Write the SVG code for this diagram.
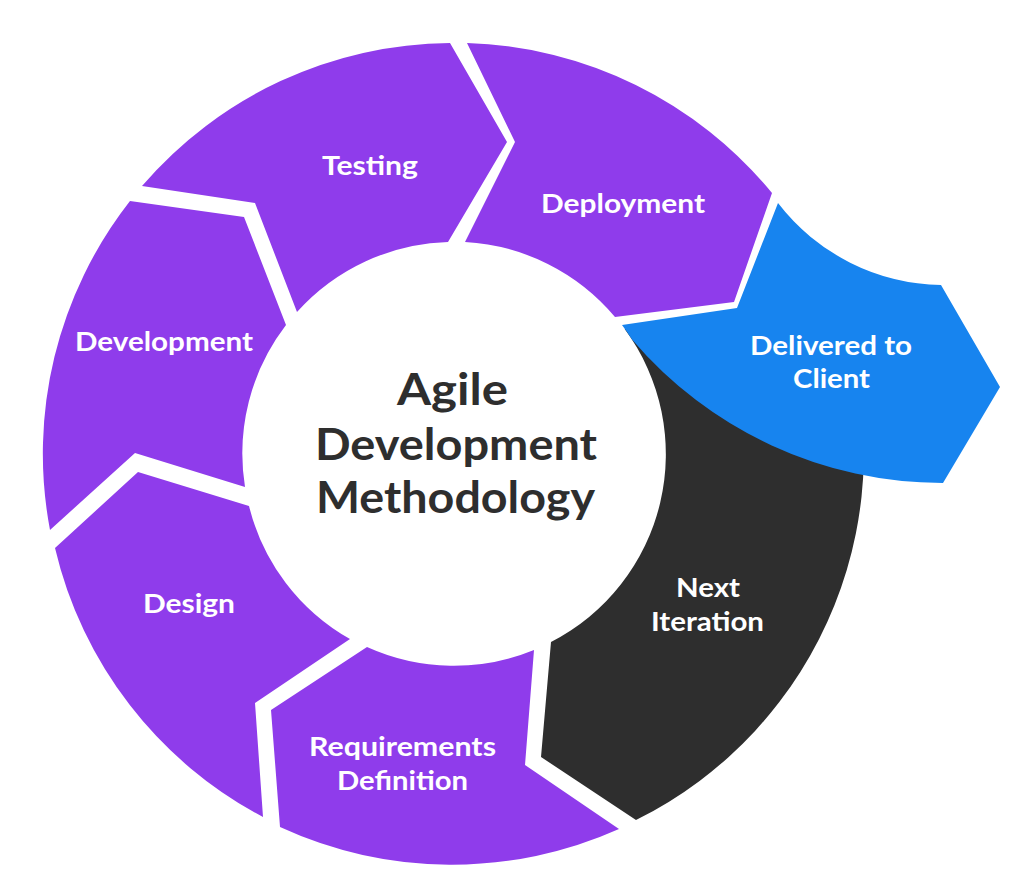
<svg xmlns="http://www.w3.org/2000/svg" width="1033" height="890" viewBox="0 0 1033 890">
  <style>
    .purple { fill: #8f3ceb; }
    .blue { fill: #1784ef; }
    .dark { fill: #2e2e2e; }
    .lbl { font-family: Lato, "Open Sans", "Liberation Sans", sans-serif; font-weight: 700; font-size: 27px; fill: #ffffff; text-anchor: middle; }
    .title { font-family: Lato, "Open Sans", "Liberation Sans", sans-serif; font-weight: 700; font-size: 43px; fill: #2e2e2e; text-anchor: middle; }
  </style>
  <rect width="1033" height="890" fill="#ffffff"/>

  <g id="next-iteration">
    <path class="dark" d="M 839.3,312.8 A 410 410 0 0 1 636,820 L 541,757 L 551,642 A 211 211 0 0 0 624.7,329 Z"/>
    <text class="lbl" x="708" y="597" textLength="64" lengthAdjust="spacingAndGlyphs">Next</text>
    <text class="lbl" x="707.5" y="631" textLength="113" lengthAdjust="spacingAndGlyphs">Iteration</text>
  </g>

  <g id="delivered-to-client">
    <path class="blue" d="M 778,203 A 210 210 0 0 0 941,285 L 1000,387 L 943,483 A 408 408 0 0 1 632,339.5 A 211 211 0 0 0 622,325 L 737,308 Z"/>
    <text class="lbl" x="831" y="355" textLength="162" lengthAdjust="spacingAndGlyphs">Delivered to</text>
    <text class="lbl" x="831.5" y="388" textLength="77" lengthAdjust="spacingAndGlyphs">Client</text>
  </g>

  <g id="requirements-definition">
    <path class="purple" d="M 619,829 L 525,765 L 534,650 A 211 211 0 0 1 367,647 L 271,710 L 280,827 A 410 410 0 0 0 619,829 Z"/>
    <text class="lbl" x="402.5" y="756" textLength="187" lengthAdjust="spacingAndGlyphs">Requirements</text>
    <text class="lbl" x="402.5" y="790" textLength="131" lengthAdjust="spacingAndGlyphs">Definition</text>
  </g>

  <g id="design">
    <path class="purple" d="M 263,817 L 255,703 L 350,639 A 211 211 0 0 1 249,506 L 138,472 L 55,548 A 410 410 0 0 0 263,817 Z"/>
    <text class="lbl" x="189" y="613" textLength="92" lengthAdjust="spacingAndGlyphs">Design</text>
  </g>

  <g id="development">
    <path class="purple" d="M 50,530 L 135,453 L 245,487 A 211 211 0 0 1 286,325 L 244,217 L 130,201 A 410 410 0 0 0 50,530 Z"/>
    <text class="lbl" x="164" y="351" textLength="178" lengthAdjust="spacingAndGlyphs">Development</text>
  </g>

  <g id="testing">
    <path class="purple" d="M 142,186 L 255,203 L 297,312 A 211 211 0 0 1 448,242 L 507,142 L 450,43 A 410 410 0 0 0 142,186 Z"/>
    <text class="lbl" x="370" y="175" textLength="96" lengthAdjust="spacingAndGlyphs">Testing</text>
  </g>

  <g id="deployment">
    <path class="purple" d="M 467,43 L 515,142 L 465,242 A 211 211 0 0 1 615,317 L 734,302 L 772,193 A 410 410 0 0 0 467,43 Z"/>
    <text class="lbl" x="623" y="213" textLength="164" lengthAdjust="spacingAndGlyphs">Deployment</text>
  </g>

  <g id="center-title">
    <text class="title" x="452.5" y="405" textLength="111" lengthAdjust="spacingAndGlyphs">Agile</text>
    <text class="title" x="456" y="460" textLength="282" lengthAdjust="spacingAndGlyphs">Development</text>
    <text class="title" x="455.5" y="513" textLength="279" lengthAdjust="spacingAndGlyphs">Methodology</text>
  </g>

  <g id="connectors"></g>
</svg>
